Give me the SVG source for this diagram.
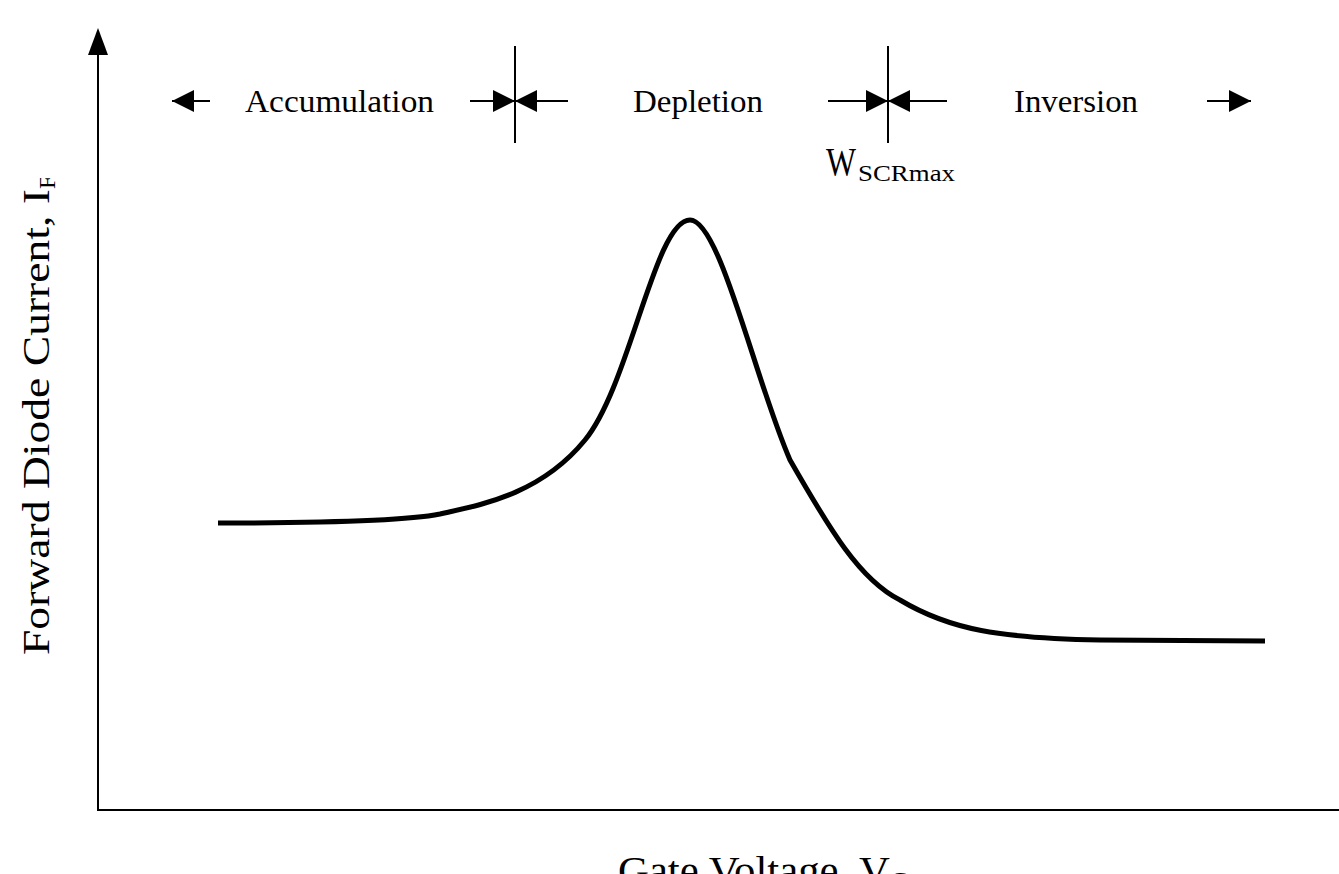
<svg xmlns="http://www.w3.org/2000/svg" width="1339" height="874" viewBox="0 0 1339 874">
<style>
.t{font-family:"Liberation Serif","DejaVu Serif",serif;fill:#000}
.ln{stroke:#000;stroke-width:2;fill:none}
</style>
<defs>
<marker id="hd" viewBox="0 0 20 20" refX="20" refY="10" markerWidth="22" markerHeight="22" markerUnits="userSpaceOnUse" orient="auto"><path d="M0,0L20,10L0,20z"/></marker>
<clipPath id="cl"><rect x="0" y="178" width="90" height="700"/></clipPath>
</defs>
<rect width="1339" height="874" fill="#fff"/>
<g id="axes">
<path class="ln" d="M98,810V50" stroke-width="3"/>
<path d="M88,55L98,28L108,55z"/>
<path class="ln" d="M97,810H1339" stroke-width="3"/>
</g>
<g id="curve">
<path fill="none" stroke="#000" stroke-width="5" d="M218,523C300,523 400,522 440,514C480,505 540,495 585,440C630,385 655,220 690,220C720,220 755,380 790,460C830,530 860,580 900,600C950,630 1000,638 1100,640L1265,641"/>
</g>
<g id="connectors">
<path class="ln" d="M210,101H172" marker-end="url(#hd)"/>
<path class="ln" d="M470,101H515" marker-end="url(#hd)"/>
<path class="ln" d="M568,101H515" marker-end="url(#hd)"/>
<path class="ln" d="M828,101H888" marker-end="url(#hd)"/>
<path class="ln" d="M947,101H888" marker-end="url(#hd)"/>
<path class="ln" d="M1207,101H1251" marker-end="url(#hd)"/>
<path class="ln" d="M515,46V143" stroke-width="2.5"/>
<path class="ln" d="M888,46V143" stroke-width="2.5"/>
</g>
<g id="labels">
<text class="t" x="245" y="112" font-size="32" textLength="189" lengthAdjust="spacingAndGlyphs">Accumulation</text>
<text class="t" x="633" y="112" font-size="32" textLength="130" lengthAdjust="spacingAndGlyphs">Depletion</text>
<text class="t" x="1014" y="112" font-size="32" textLength="124" lengthAdjust="spacingAndGlyphs">Inversion</text>
<text class="t" x="826" y="175" font-size="40" textLength="30" lengthAdjust="spacingAndGlyphs">W</text>
<text class="t" x="858" y="181" font-size="24" textLength="97" lengthAdjust="spacingAndGlyphs">SCRmax</text>
<g clip-path="url(#cl)">
<text class="t" transform="translate(49,655) rotate(-90)" font-size="38"><tspan textLength="466" lengthAdjust="spacingAndGlyphs">Forward Diode Current, I</tspan><tspan font-size="24" dy="6">Fwd</tspan></text>
</g>
<text class="t" x="618" y="884" font-size="40"><tspan textLength="272" lengthAdjust="spacingAndGlyphs">Gate Voltage, V</tspan><tspan font-size="26" dy="6">G</tspan></text>
</g>
</svg>
